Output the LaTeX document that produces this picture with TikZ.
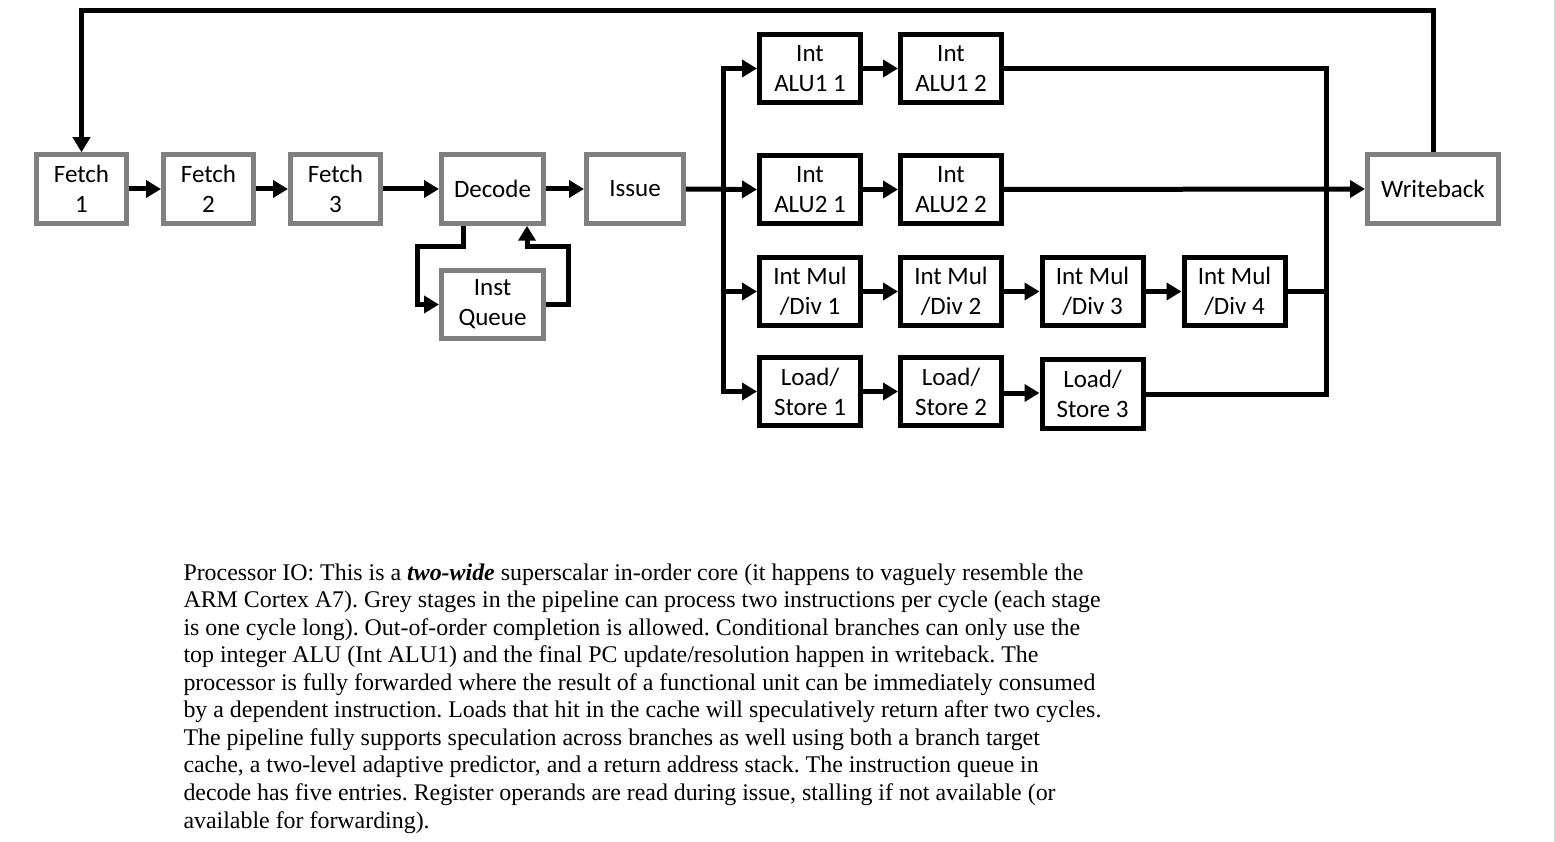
\documentclass[tikz,border=0pt]{standalone}
\usepackage{fontspec}
\setmainfont{Liberation Serif}
\newfontfamily\boxfont{Carlito}
\usetikzlibrary{arrows.meta}
\definecolor{stagegrey}{RGB}{128,128,128}
\definecolor{edgegrey}{RGB}{215,215,215}
\begin{document}
\frenchspacing
\begin{tikzpicture}[x=1pt,y=-1pt,
  line width=5pt, line join=miter,
  arr/.style={-{Triangle[length=15pt,width=17pt]}},
  stage/.style={draw, rectangle, fill=white, inner sep=0pt, align=center,
    font=\boxfont\fontsize{25}{30}\selectfont, minimum height=68.5pt},
  grey/.style={stage, draw=stagegrey},
  blk/.style={stage, draw=black, minimum width=101pt},
  bus/.style={line cap=rect},
  caption/.style={anchor=base west, inner sep=0pt, align=left,
    font=\fontsize{23.9}{27.55}\selectfont}
]
\useasboundingbox (0,0) rectangle (1556,842);
\fill[white] (0,0) rectangle (1556,842);
\draw[line width=2pt, edgegrey] (1554.5,0) -- (1554.5,842);

% front end
\node[grey, minimum width=90pt] (F1) at (81.5,189) {Fetch\\1};
\node[grey, minimum width=90pt] (F2) at (208.5,189) {Fetch\\2};
\node[grey, minimum width=90pt] (F3) at (335.5,189) {Fetch\\3};
\node[grey, minimum width=102pt] (Dec) at (492.5,189) {Decode};
\node[grey, minimum width=97pt] (Iss) at (635,189) {Issue};
\node[grey, minimum width=102pt] (IQ) at (492.5,304.5) {Inst\\Queue};
\node[grey, minimum width=131pt] (WB) at (1433,189) {Writeback};

% execution units
\node[blk] (A11) at (810,68.5) {Int\\ALU1 1};
\node[blk] (A12) at (951,68.5) {Int\\ALU1 2};
\node[blk] (A21) at (810,189.5) {Int\\ALU2 1};
\node[blk] (A22) at (951,189.5) {Int\\ALU2 2};
\node[blk] (M1) at (810,291.5) {Int Mul\\/Div 1};
\node[blk] (M2) at (951,291.5) {Int Mul\\/Div 2};
\node[blk] (M3) at (1092.5,291.5) {Int Mul\\/Div 3};
\node[blk] (M4) at (1234.5,291.5) {Int Mul\\/Div 4};
\node[blk] (L1) at (810,391.5) {Load/\\Store 1};
\node[blk] (L2) at (951,391.5) {Load/\\Store 2};
\node[blk] (L3) at (1092.5,394) {Load/\\Store 3};

\coordinate (busL) at (723,0);
\coordinate (busR) at (1326,0);
\coordinate (topY) at (0,11);
\coordinate (qL) at (417,247);
\coordinate (qR) at (568,247);

% front-end arrows
\draw[arr] (F1) -- (F2);
\draw[arr] (F2) -- (F3);
\draw[arr] (F3) -- (Dec);
\draw[arr] (Dec) -- (Iss);
\draw[arr] ([xshift=-29.5pt]Dec.south) |- (qL) |- (IQ.west);
\draw[arr] (IQ.east) -| (qR) -| ([xshift=34.5pt]Dec.south);

% issue bus
\draw[bus] (busL |- A11) -- (busL |- L1);
\draw[arr] (Iss.east) -- (A21.west);
\draw[arr] (busL |- A11) -- (A11.west);
\draw[arr] (busL |- M1) -- (M1.west);
\draw[arr] (busL |- L1) -- (L1.west);

% pipelines
\draw[arr] (A11) -- (A12);
\draw[arr] (A21) -- (A22);
\draw[arr] (M1) -- (M2);
\draw[arr] (M2) -- (M3);
\draw[arr] (M3) -- (M4);
\draw[arr] (L1) -- (L2);
\draw[arr] ([yshift=-1.5pt]L2.east) -- ([yshift=-1.5pt]L2.east -| L3.west);

% writeback bus
\draw[bus] (busR |- A12) -- (busR |- L3);
\draw (A12.east) -- (busR |- A12);
\draw (M4.east) -- (busR |- M4);
\draw (L3.east) -- (busR |- L3);
\draw[arr] (A22.east) -- (WB.west);

% feedback
\draw[arr] (WB.north) -- (WB.north |- topY) -| (F1.north);

% caption
\node[caption] (cap) at (181,828) {Processor IO: This is a \textbf{\textit{two-wide}} superscalar in-order core (it happens to vaguely resemble the\\
ARM Cortex A7). Grey stages in the pipeline can process two instructions per cycle (each stage\\
is one cycle long). Out-of-order completion is allowed. Conditional branches can only use the\\
top integer ALU (Int ALU1) and the final PC update/resolution happen in writeback. The\\
processor is fully forwarded where the result of a functional unit can be immediately consumed\\
by a dependent instruction. Loads that hit in the cache will speculatively return after two cycles.\\
The pipeline fully supports speculation across branches as well using both a branch target\\
cache, a two-level adaptive predictor, and a return address stack. The instruction queue in\\
decode has five entries. Register operands are read during issue, stalling if not available (or\\
available for forwarding).};
\end{tikzpicture}
\end{document}
